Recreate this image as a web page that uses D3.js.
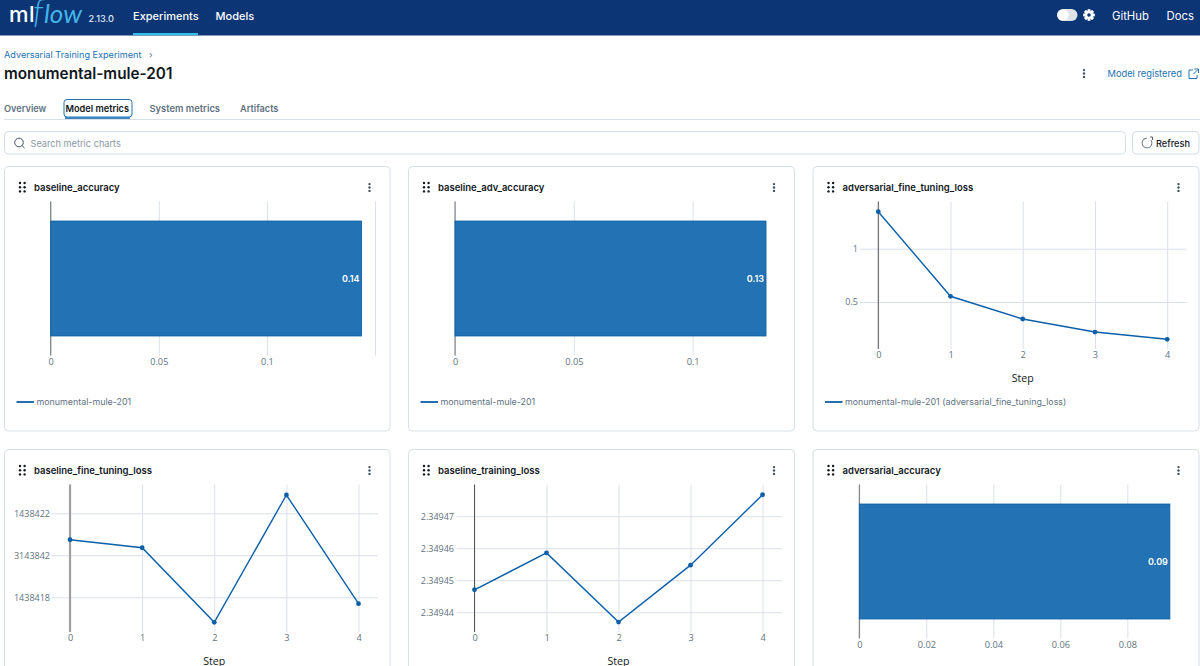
<!DOCTYPE html>
<html>
<head>
<meta charset="utf-8">
<script src="https://cdn.jsdelivr.net/npm/d3@7"></script>
<style>
html, body { margin: 0; padding: 0; background: #fff; overflow: hidden; }
svg { display: block; font-family: Inter, "Noto Sans", sans-serif; }
</style>
</head>
<body>
<div id="viz"></div>
<script>
var runName = "monumental-mule-201";
var steps = [0, 1, 2, 3, 4];

var baselineAccuracyValue = 0.1438;
var baselineAccuracyTicks = [0, 0.05, 0.1, 0.15];
var baselineAccuracyLabels = ["0", "0.05", "0.1", ""];

var baselineAdvAccuracyValue = 0.1309;
var baselineAdvAccuracyTicks = [0, 0.05, 0.1];
var baselineAdvAccuracyLabels = ["0", "0.05", "0.1"];

var adversarialAccuracyValue = 0.0927;
var adversarialAccuracyTicks = [0, 0.02, 0.04, 0.06, 0.08];
var adversarialAccuracyLabels = ["0", "0.02", "0.04", "0.06", "0.08"];

var advFineLossValues = [1.347, 0.554, 0.341, 0.219, 0.151];
var advFineLossTicks = [0.5, 1];
var advFineLossLabels = ["0.5", "1"];

var baseFineLossValues = [1438420.74, 1438420.36, 1438416.81, 1438422.87, 1438417.7];
var baseFineLossTicks = [1438418, 1438420, 1438422];
var baseFineLossLabels = ["1438418", "3143842", "1438422"];

var baseTrainLossValues = [2.349447, 2.3494585, 2.3494369, 2.3494547, 2.3494767];
var baseTrainLossTicks = [2.34944, 2.34945, 2.34946, 2.34947];
var baseTrainLossLabels = ["2.34944", "2.34945", "2.34946", "2.34947"];

var width = 1200, height = 666;
var navy = "#0b3574", link = "#2272b4", lineBlue = "#0b5fa9", barBlue = "#2272b4";
var gridColor = "#dbe0e9", tickColor = "#5f7281", titleColor = "#11171c";

var svg = d3.select("#viz").append("svg")
	.attr("width", width)
	.attr("height", height)
	.attr("viewBox", "0 0 " + width + " " + height);

var addText = function(parent, x, y, str, size, color, weight, anchor) {
	return parent.append("text")
		.attr("x", x)
		.attr("y", y)
		.attr("dy", "0.35em")
		.attr("font-size", size)
		.attr("fill", color)
		.attr("font-weight", weight || 400)
		.attr("text-anchor", anchor || "start")
		.text(str);
}

var addKebab = function(parent, x, y, color) {
	[-3.4, 0, 3.4].forEach(function(d) {
		parent.append("circle").attr("cx", x).attr("cy", y + d).attr("r", 1.2).attr("fill", color);
	});
}

// header
svg.append("rect").attr("width", width).attr("height", 35.5).attr("fill", navy);
addText(svg, 9, 14.5, "ml", 22, "#fff", 500).style("letter-spacing", "0.4px");
var flow = svg.append("text")
	.attr("y", 23)
	.attr("fill", "#43b4e8")
	.style("font-family", "Lato")
	.style("font-style", "italic");
flow.append("tspan").attr("x", 33).attr("font-size", 33).attr("font-weight", 300).text("f");
flow.append("tspan").attr("x", 44).attr("font-size", 26).attr("font-weight", 400).text("low");
addText(svg, 88.5, 19, "2.13.0", 9.2, "#dfe8f3", 500);
addText(svg, 133, 16, "Experiments", 11, "#fff", 500);
addText(svg, 215.5, 16, "Models", 11, "#fff", 500);
svg.append("rect").attr("x", 133).attr("y", 33).attr("width", 65).attr("height", 2).attr("fill", "#2fc0ea");
svg.append("rect").attr("x", 1057).attr("y", 9).attr("width", 20.5).attr("height", 12).attr("rx", 6).attr("fill", "#dfe3e8");
svg.append("circle").attr("cx", 1063).attr("cy", 15).attr("r", 5.6).attr("fill", "#fff");
var gear = svg.append("g").attr("transform", "translate(1089,15)");
d3.range(8).forEach(function(i) {
	gear.append("rect").attr("x", -1.3).attr("y", -5.6).attr("width", 2.6).attr("height", 11.2)
		.attr("fill", "#fff").attr("transform", "rotate(" + (i * 45) + ")");
});
gear.append("circle").attr("r", 3.8).attr("fill", "#fff");
gear.append("circle").attr("r", 1.8).attr("fill", navy);
addText(svg, 1112, 16, "GitHub", 11.3, "#fff", 400);
addText(svg, 1166.5, 16, "Docs", 11.3, "#fff", 400);

// run title block
addText(svg, 4, 55, "Adversarial Training Experiment", 9.15, link, 400);
addText(svg, 149, 55, "\u203a", 9.4, "#5f7281", 400);
addText(svg, 4, 74, runName, 15.3, titleColor, 600);
addKebab(svg, 1084, 73.5, "#44525f");
addText(svg, 1107.5, 73.5, "Model registered", 9.3, link, 400);
svg.append("path")
	.attr("d", "M1193 70H1189V78.5H1197V75M1193.5 74L1198 69.5M1194.5 69H1198.5V73")
	.attr("fill", "none").attr("stroke", link).attr("stroke-width", 1);

// tabs
addText(svg, 4, 108.5, "Overview", 9.2, tickColor, 600);
addText(svg, 65.5, 108.5, "Model metrics", 9.2, titleColor, 600);
addText(svg, 149.5, 108.5, "System metrics", 9.4, tickColor, 600);
addText(svg, 240, 108.5, "Artifacts", 9.2, tickColor, 600);
svg.append("rect").attr("x", 64).attr("y", 99.5).attr("width", 68).attr("height", 17.5).attr("rx", 3)
	.attr("fill", "none").attr("stroke", link).attr("stroke-width", 1);
svg.append("rect").attr("x", 65).attr("y", 117).attr("width", 65).attr("height", 2).attr("fill", "#3c87c4");
svg.append("line").attr("x1", 4).attr("x2", width).attr("y1", 119.5).attr("y2", 119.5).attr("stroke", "#d8dfe6");

// search row
svg.append("rect").attr("x", 4.5).attr("y", 131.5).attr("width", 1121).attr("height", 22.5).attr("rx", 4)
	.attr("fill", "#fff").attr("stroke", "#d4dde6");
svg.append("circle").attr("cx", 19).attr("cy", 142.5).attr("r", 4.3).attr("fill", "none").attr("stroke", "#44525f").attr("stroke-width", 1);
svg.append("line").attr("x1", 22).attr("y1", 145.6).attr("x2", 24.5).attr("y2", 148).attr("stroke", "#44525f");
addText(svg, 30.5, 143.5, "Search metric charts", 9.2, "#8a99a6", 400);
svg.append("rect").attr("x", 1132.5).attr("y", 131.5).attr("width", 66.5).attr("height", 22.5).attr("rx", 4)
	.attr("fill", "#fff").attr("stroke", "#d4dde6");
svg.append("path")
	.attr("transform", "translate(1147,143)")
	.attr("d", d3.arc().innerRadius(4.6).outerRadius(5.3).startAngle(0.9).endAngle(2 * Math.PI)())
	.attr("fill", "#44525f");
svg.append("path").attr("d", "M1150 137H1152.5V140").attr("fill", "none").attr("stroke", "#44525f").attr("stroke-width", 0.9);
addText(svg, 1156, 143.5, "Refresh", 9.2, titleColor, 500);

var addCard = function(cx, cy, cw, title) {
	var g = svg.append("g").attr("transform", "translate(" + cx + "," + cy + ")");
	g.append("rect").attr("width", cw).attr("height", 264.5).attr("rx", 4)
		.attr("fill", "#fff").attr("stroke", "#d8dfe6");
	[0, 1, 2].forEach(function(r) {
		[0, 1].forEach(function(c) {
			g.append("circle").attr("cx", 15.5 + c * 4.6).attr("cy", 16.5 + r * 4.2).attr("r", 1.2).attr("fill", "#11171c");
		});
	});
	addText(g, 29.5, 21, title, 9.5, titleColor, 600);
	addKebab(g, cw - 20.5, 21, "#44525f");
	return g;
}

var styleAxis = function(sel, labelSize) {
	sel.select(".domain").remove();
	sel.selectAll(".tick line").attr("stroke", gridColor).attr("stroke-width", 1);
	sel.selectAll(".tick text")
		.attr("fill", tickColor)
		.attr("font-size", labelSize)
		.attr("font-family", "'Open Sans', sans-serif");
}

var addZeroLine = function(g, x0, top, bottom, color, thick) {
	g.append("line").attr("x1", x0).attr("x2", x0).attr("y1", top).attr("y2", bottom)
		.attr("stroke", color).attr("stroke-width", thick);
}

var addLegend = function(g, str) {
	if (!str) return;
	g.append("line").attr("x1", 12).attr("x2", 29.5).attr("y1", 235.5).attr("y2", 235.5)
		.attr("stroke", lineBlue).attr("stroke-width", 1.8);
	addText(g, 32, 235.5, str, 8.9, tickColor, 400);
}

var barChart = function(opts) {
	var g = addCard(opts.cx, opts.cy, opts.cw, opts.title);
	var x = d3.scaleLinear().domain([0, opts.max]).range([opts.left, opts.right]);
	var y = d3.scaleBand().domain([runName]).range([35, 189]).padding(0.145);

	var axis = d3.axisBottom(x)
		.tickValues(opts.ticks)
		.tickFormat(function(d, i) { return opts.labels[i]; })
		.tickSize(-154)
		.tickPadding(3);
	g.append("g").attr("transform", "translate(0,189)").call(axis).call(styleAxis, 9.2);

	addZeroLine(g, x(0), 35, 189, "#6d6f72", 1);

	g.selectAll(".bar").data([opts.value]).enter().append("rect")
		.attr("class", "bar")
		.attr("x", x(0))
		.attr("y", y(runName))
		.attr("width", function(d) { return x(d) - x(0); })
		.attr("height", y.bandwidth())
		.attr("fill", barBlue)
		.attr("stroke", lineBlue)
		.attr("stroke-width", 0.8);

	addText(g, x(opts.value) - 2, y(runName) + y.bandwidth() / 2, opts.value.toFixed(2), 9, "#fff", 600, "end");
	addLegend(g, opts.legend);
}

var lineChart = function(opts) {
	var g = addCard(opts.cx, opts.cy, opts.cw, opts.title);
	var x = d3.scaleLinear().domain(opts.xDomain).range([opts.left, opts.right]);
	var y = d3.scaleLinear().domain(opts.yDomain).range([182.5, 35]);

	var xAxis = d3.axisBottom(x)
		.tickValues(steps)
		.tickFormat(d3.format("d"))
		.tickSize(-147.5)
		.tickPadding(2);
	g.append("g").attr("transform", "translate(0,182.5)").call(xAxis).call(styleAxis, 9.2);

	var yAxis = d3.axisLeft(y)
		.tickValues(opts.ticks)
		.tickFormat(function(d, i) { return opts.labels[i]; })
		.tickSize(opts.right - opts.left);
	g.append("g").attr("transform", "translate(" + opts.right + ",0)").call(yAxis).call(styleAxis, 9)
		.selectAll(".tick text")
		.attr("x", opts.labelX - opts.right);

	addZeroLine(g, x(0), 35, 182.5, opts.zeroColor, opts.zeroThick);

	addText(g, x(2), 212, "Step", 10.6, titleColor, 400, "middle").attr("font-family", "'Open Sans', sans-serif");

	var line = d3.line()
		.x(function(d, i) { return x(steps[i]); })
		.y(function(d) { return y(d); });

	g.append("path").datum(opts.values)
		.attr("d", line)
		.attr("fill", "none")
		.attr("stroke", lineBlue)
		.attr("stroke-width", 1.4);

	g.selectAll(".dot").data(opts.values).enter().append("circle")
		.attr("class", "dot")
		.attr("cx", function(d, i) { return x(steps[i]); })
		.attr("cy", function(d) { return y(d); })
		.attr("r", 2.4)
		.attr("fill", lineBlue);

	addLegend(g, opts.legend);
}

barChart({
	cx: 4.5, cy: 166.5, cw: 385.5, title: "baseline_accuracy",
	value: baselineAccuracyValue, ticks: baselineAccuracyTicks, labels: baselineAccuracyLabels,
	max: 0.15, left: 46.2, right: 370.5, legend: runName
});

barChart({
	cx: 408.5, cy: 166.5, cw: 386, title: "baseline_adv_accuracy",
	value: baselineAdvAccuracyValue, ticks: baselineAdvAccuracyTicks, labels: baselineAdvAccuracyLabels,
	max: 0.1372, left: 46.5, right: 372.5, legend: runName
});

lineChart({
	cx: 813, cy: 166.5, cw: 386, title: "adversarial_fine_tuning_loss",
	values: advFineLossValues, ticks: advFineLossTicks, labels: advFineLossLabels,
	xDomain: [-0.253, 4.27], yDomain: [0.06, 1.4424], left: 47, right: 373.7,
	labelX: 45, zeroColor: "#555", zeroThick: 1,
	legend: runName + " (adversarial_fine_tuning_loss)"
});

lineChart({
	cx: 4.5, cy: 449.5, cw: 385.5, title: "baseline_fine_tuning_loss",
	values: baseFineLossValues, ticks: baseFineLossTicks, labels: baseFineLossLabels,
	xDomain: [-0.25, 4.27], yDomain: [1438416.35, 1438423.37], left: 47.5, right: 373.5,
	labelX: 45.5, zeroColor: "#a0a0a0", zeroThick: 2.2
});

lineChart({
	cx: 408.5, cy: 449.5, cw: 386, title: "baseline_training_loss",
	values: baseTrainLossValues, ticks: baseTrainLossTicks, labels: baseTrainLossLabels,
	xDomain: [-0.25, 4.27], yDomain: [2.3494338, 2.3494799], left: 48, right: 373.5,
	labelX: 45.5, zeroColor: "#555", zeroThick: 1
});

barChart({
	cx: 813, cy: 449.5, cw: 386, title: "adversarial_accuracy",
	value: adversarialAccuracyValue, ticks: adversarialAccuracyTicks, labels: adversarialAccuracyLabels,
	max: 0.0973, left: 46.3, right: 372.3
});
</script>
</body>
</html>
